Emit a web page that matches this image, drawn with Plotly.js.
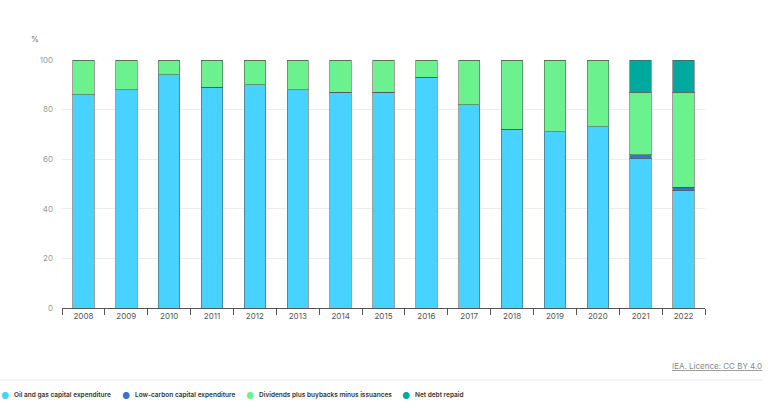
<!DOCTYPE html>
<html><head><meta charset="utf-8">
<script src="https://cdn.plot.ly/plotly-3.0.1.min.js"></script>
<style>html,body{margin:0;padding:0;background:#fff;}#chart{width:768px;height:408px;}</style>
</head><body><div id="chart"></div>
<script>
const years = ['2008','2009','2010','2011','2012','2013','2014','2015','2016','2017','2018','2019','2020','2021','2022'];
const oilGas = [86,88,94,89,90,88,87,87,93,82,72,71,73,60.3,47.5];
const lowCarbon = [0,0,0,0,0,0,0,0,0,0,0,0,0,1.4,1.2];
const dividends = [14,12,6,11,10,12,13,13,7,18,28,29,27,25.3,38.3];
const netDebt = [0,0,0,0,0,0,0,0,0,0,0,0,0,13,13];
const names = ['Oil and gas capital expenditure','Low-carbon capital expenditure','Dividends plus buybacks minus issuances','Net debt repaid'];
const colors = ['#48d2ff','#3a6fd6','#6bf28f','#00a99d'];
const series = [oilGas, lowCarbon, dividends, netDebt];

const L = 62, PW = 643, T = 60, PH = 248;
const px = v => (v - L) / PW;
const py = v => (T + PH - v) / PH;

const traces = [];
series.forEach((s,i)=>{
  traces.push({type:'bar', x:years, y:s, name:names[i], showlegend:false,
    marker:{color:colors[i], line:{color:'rgba(80,80,80,0.55)', width:1}},
    width:0.5, hoverinfo:'x+y+name'});
});

// custom legend positions (pixels of symbol centre)
const legendX = [5, 126, 250, 406];
const annotations = [
  {text:'%', xref:'paper', yref:'paper', x:px(41), y:py(39), showarrow:false, xanchor:'right', yanchor:'middle', font:{size:8,color:'#777'}},
  {text:'<span style="text-decoration:underline">IEA. Licence: CC BY 4.0</span>', xref:'paper', yref:'paper', x:px(764), xanchor:'right', y:py(366), yanchor:'middle', showarrow:false, font:{size:8,color:'#888'}}
];
names.forEach((n,i)=>{
  annotations.push({text:'●', xref:'paper', yref:'paper', x:px(legendX[i]), y:py(395), xanchor:'center', yanchor:'middle', showarrow:false, font:{size:9, color:colors[i]}});
  annotations.push({text:n, xref:'paper', yref:'paper', x:px(legendX[i]+7), y:py(395), xanchor:'left', yanchor:'middle', showarrow:false, font:{size:6.5, color:'#333', weight:600}});
});

const layout = {
  width:768, height:408,
  margin:{l:L, r:768-L-PW, t:T, b:408-T-PH, autoexpand:false},
  barmode:'stack', bargap:0.5,
  paper_bgcolor:'#fff', plot_bgcolor:'#fff',
  font:{family:'Inter, "Noto Sans", sans-serif', size:8, color:'#555'},
  xaxis:{type:'category', tickson:'boundaries', ticks:'outside', ticklen:6, tickcolor:'#555',
    showline:true, linecolor:'#555', linewidth:1, showgrid:false,
    tickfont:{size:8, color:'#555'}},
  yaxis:{range:[0,100], dtick:20, showgrid:true, gridcolor:'#ececec', zeroline:false,
    ticks:'', tickfont:{size:8, color:'#999'}, ticklabelstandoff:8, fixedrange:true},
  showlegend:false,
  annotations:annotations,
  shapes:[
    {type:'line', xref:'paper', yref:'paper', x0:px(0), x1:px(763), y0:py(380), y1:py(380), line:{color:'#ececec', width:1}}
  ]
};
Plotly.newPlot('chart', traces, layout, {displayModeBar:false, staticPlot:true});
</script></body></html>
